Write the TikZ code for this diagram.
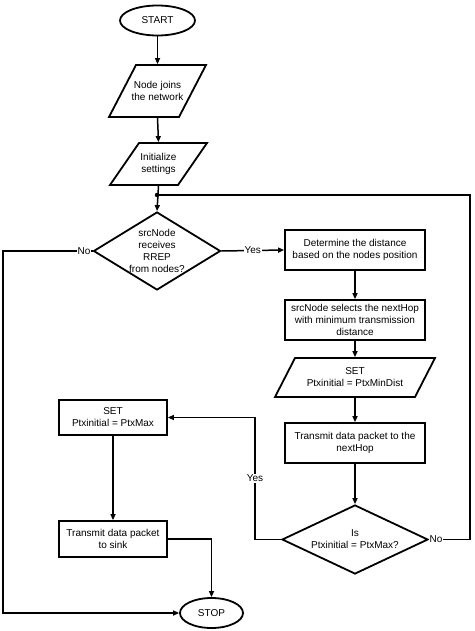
\documentclass[tikz,border=0pt]{standalone}
\usepackage{fontspec}
\setmainfont{Liberation Sans}
\usetikzlibrary{shapes.geometric,arrows.meta}
\begin{document}
\begin{tikzpicture}[x=1pt,y=-1pt, line width=1.8pt, line join=miter,
  font=\fontsize{10}{12}\selectfont,
  term/.style={ellipse,draw,minimum height=30pt,inner sep=0pt},
  proc/.style={rectangle,draw,minimum width=140pt,minimum height=40pt,inner sep=1pt,align=center},
  txt/.style={inner sep=0pt,align=center},
  dia/.style={diamond,draw,inner sep=0pt},
  conn/.style={-{Triangle[length=6pt,width=5pt]},line width=1.5pt},
  plain/.style={line width=1.5pt},
  lbl/.style={fill=white,inner sep=1pt}]
\fill[white] (0,0) rectangle (474,631);
\useasboundingbox (0,0) rectangle (474,631);

% terminals
\node[term, minimum width=75pt] (start) at (157.5,20.5) {START};
\node[term, minimum width=63pt] (stop) at (211.5,613) {STOP};

% parallelograms
\draw (136,65) -- (206,65) -- (179,117) -- (109,117) -- cycle;
\node[txt, minimum height=52pt] (p1) at (157.5,91) {Node joins\\the network};
\draw (139,143) -- (207,143) -- (178,185) -- (110,185) -- cycle;
\node[txt, minimum height=42pt] (p2) at (158.5,164) {Initialize\\settings};
\draw (295,358) -- (435,358) -- (415,397) -- (275,397) -- cycle;
\node[txt, minimum height=39pt] (p3) at (355,377.5) {SET\\Ptxinitial = PtxMinDist};

% decisions
\node[dia, minimum width=127pt, minimum height=78pt] (d1) at (157,251) {};
\node[txt] (d1t) at (157,251) {srcNode\\receives\\RREP\\from nodes?};
\node[dia, minimum width=146pt, minimum height=69pt] (d2) at (355,539.5) {};
\node[txt] (d2t) at (355,539.5) {Is\\Ptxinitial = PtxMax?};

% processes
\node[proc] (b1) at (355,250) {Determine the distance\\based on the nodes position};
\node[proc] (b2) at (355,320) {srcNode selects the nextHop\\with minimum transmission\\distance};
\node[proc] (b4) at (355,443) {Transmit data packet to the\\nextHop};
\node[proc, minimum width=108pt, minimum height=35pt] (set) at (113,417.5) {SET\\Ptxinitial = PtxMax};
\node[proc, minimum width=108pt, minimum height=36pt] (sink) at (113,539) {Transmit data packet\\to sink};

% helper coordinates
\coordinate (j) at (157,195);
\coordinate (nr) at (470,539.5);
\coordinate (yl) at (255,539.5);
\coordinate (nl) at (3,251);

% connectors
\draw[conn] (start) -- (p1.north);
\draw[conn] (p1.south) -- (p2.north);
\draw[conn] (p2.south) -- (d1.north);
\fill (j) circle (2.2pt);
\draw[conn] (d1.east) -- node[lbl, pos=0.5] {Yes} (b1.west);
\draw[conn] (b1) -- (b2);
\draw[conn] (b2.south) -- (p3.north);
\draw[conn] (p3.south) -- (b4.north);
\draw[conn] (b4) -- (d2.north);
\draw[conn] (d2.west) -- (yl) |- node[lbl, pos=0.25] {Yes} (set.east);
\draw[plain] (d2.east) -- (nr) |- (j);
\node[lbl] at (436,539.5) {No};
\draw[conn] (d1.west) -- (nl) |- (stop.west);
\node[lbl] at (84,251) {No};
\draw[conn] (set) -- (sink);
\draw[conn] (sink.east) -| (stop.north);
\end{tikzpicture}
\end{document}
